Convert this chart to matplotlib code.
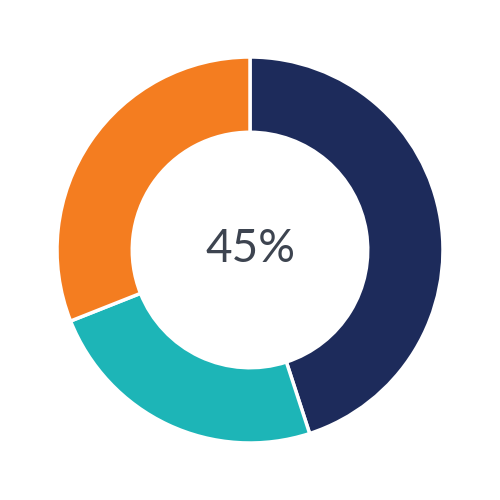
import matplotlib.pyplot as plt

# slice shares, clockwise from 12 o'clock
labels = ['Navy', 'Teal', 'Orange']
values = [45, 24, 31]
colors = ['#1d2b5b', '#1db5b7', '#f47d20']
center_text = '45%'

fig = plt.figure(figsize=(5, 5), dpi=100)
ax = fig.add_axes([0, 0, 1, 1])

ax.pie(values, colors=colors, startangle=90, counterclock=False,
       radius=1.0, wedgeprops=dict(width=0.39, edgecolor='white', linewidth=2.5))

ax.text(0, 0.005, center_text, ha='center', va='center', fontsize=33,
        color='#3d4450', family=['Lato', 'DejaVu Sans'], fontweight='normal')

lim = 250 / 193
ax.set_xlim(-lim, lim)
ax.set_ylim(-lim, lim)
ax.set_aspect('equal')
ax.axis('off')

fig.savefig('out.png', dpi=100, facecolor='white')
